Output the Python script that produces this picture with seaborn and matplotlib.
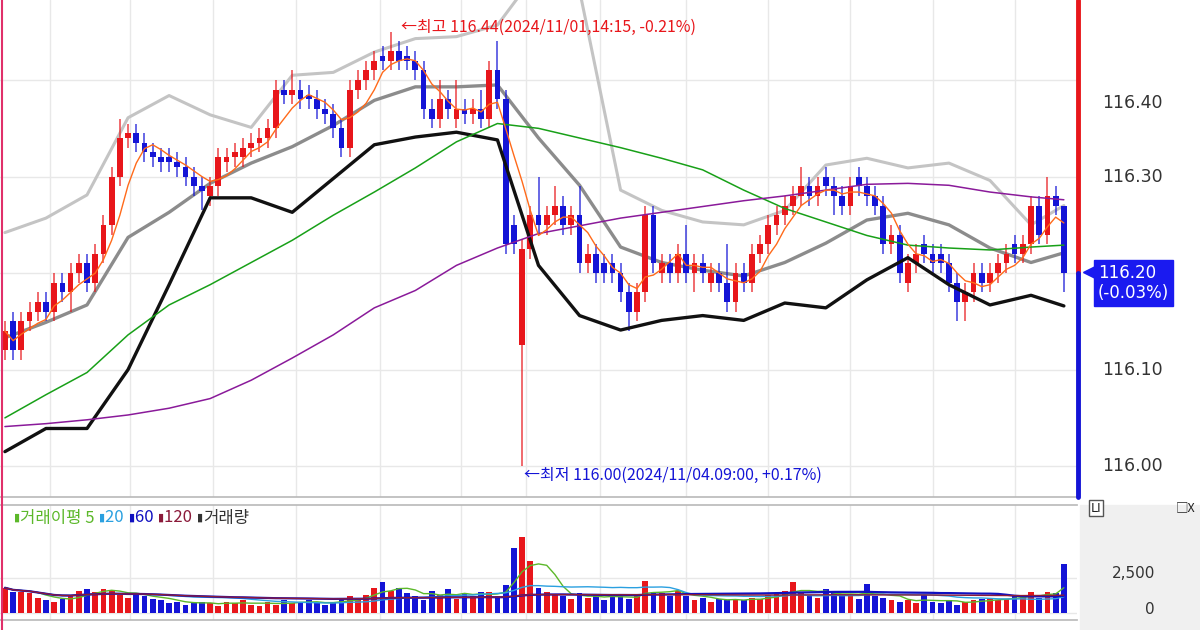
import numpy as np
import pandas as pd
import matplotlib
matplotlib.use("Agg")
import matplotlib.pyplot as plt
from matplotlib.lines import Line2D
import seaborn as sns

# ---------------- data ----------------
closes = [116.14,116.12,116.15,116.16,116.17,116.16,116.19,116.18,116.20,116.21,116.19,116.22,
          116.25,116.30,116.34,116.345,116.335,
          116.325,116.32,116.315,116.315,116.31,116.30,116.29,116.285,116.29,
          116.32,116.32,116.325,116.33,116.335,116.34,116.35,116.39,
          116.385,116.39,116.38,116.38,116.37,116.365,116.35,116.33,
          116.39,116.40,116.41,116.42,116.42,116.43,116.42,116.42,116.41,
          116.37,116.36,116.38,116.37,116.37,116.365,116.37,116.36,
          116.41,116.38,116.23,116.23,116.225,
          116.26,116.25,116.26,116.27,116.25,116.26,
          116.21,116.22,116.20,116.20,116.20,
          116.18,116.16,116.18,116.26,116.21,
          116.21,116.20,116.22,116.20,116.21,116.20,116.20,116.19,116.17,116.20,116.19,
          116.22,116.23,116.25,116.26,116.27,116.28,116.29,116.28,116.29,
          116.29,116.28,116.27,116.29,116.29,116.28,116.27,
          116.23,116.24,116.20,116.21,116.22,116.22,116.21,116.21,116.19,116.17,116.18,116.20,
          116.19,116.20,116.21,116.22,116.22,116.23,116.27,116.24,116.28,116.27,116.20]
opens = [116.12,116.15,116.12,116.15,116.16,116.17,116.16,116.19,116.18,116.20,116.21,116.19,
         116.22,116.25,116.30,116.34,116.345,
         116.335,116.325,116.32,116.32,116.315,116.31,116.30,116.29,116.28,
         116.29,116.315,116.32,116.32,116.33,116.335,116.34,116.35,
         116.39,116.385,116.39,116.385,116.38,116.37,116.365,116.35,
         116.33,116.39,116.40,116.41,116.425,116.42,116.43,116.425,116.42,
         116.41,116.37,116.36,116.38,116.36,116.37,116.365,116.37,
         116.36,116.41,116.38,116.25,116.125,
         116.225,116.26,116.25,116.26,116.27,116.25,
         116.26,116.21,116.22,116.21,116.21,
         116.20,116.18,116.16,116.18,116.26,
         116.20,116.21,116.20,116.22,116.20,116.21,116.19,116.20,116.19,116.17,116.20,
         116.19,116.22,116.23,116.25,116.26,116.27,116.28,116.29,116.28,
         116.30,116.29,116.28,116.27,116.30,116.29,116.28,
         116.27,116.23,116.24,116.19,116.21,116.23,116.22,116.22,116.21,116.19,116.17,116.18,
         116.20,116.19,116.20,116.21,116.23,116.22,116.23,116.27,116.24,116.28,116.27]
# wick lengths in hundredths
wick_up = [1,1,1,1,1,1,1,1,1,1,1,1,
           1,1,2,1,1,
           1,1,1,1,1,1,1,1,1,
           1,1,1,1,1,1,1,1,
           1,2,1,1,1,1,1,1,
           1,1,1,1,1,2,1,1,1,
           1,1,2,1,3,1,1,2,
           1,3,1,1,1,
           1,4,1,2,1,1,
           3,1,1,1,1,
           1,1,1,1,1,
           1,1,1,3,1,1,1,1,4,1,1,
           1,1,1,1,1,1,2,1,1,
           1,1,1,1,1,1,1,
           1,1,1,1,1,1,1,1,1,1,1,1,
           1,1,1,1,1,1,1,1,2,1,0]
wick_dn = [1,1,1,1,1,1,1,1,2,1,1,1,
           1,1,1,1,1,
           1,1,1,1,1,1,1,2,1,
           1,1,1,1,1,1,1,1,
           1,1,1,1,1,1,1,1,
           1,1,1,1,1,1,1,1,1,
           1,1,1,1,1,1,1,1,
           1,1,1,1,12.5,
           1,1,1,1,1,1,
           1,1,1,1,1,
           1,2,1,1,1,
           1,1,1,1,2,1,1,1,1,1,1,
           1,1,1,1,1,1,1,1,1,
           1,2,1,1,1,1,1,
           1,1,1,1,1,1,1,1,1,2,2,1,
           1,1,1,1,1,1,1,1,1,1,2]
volumes = [1800,1500,1500,1400,1100,900,800,1000,1200,1600,1700,1500,
           1700,1600,1300,1100,1400,
           1200,1000,900,700,800,600,700,800,700,
           500,800,700,900,600,500,800,600,
           900,700,800,900,700,600,700,1100,
           1200,1000,1300,1800,2200,1600,1800,1400,1200,
           900,1600,1300,1700,1000,1400,1200,1500,
           1500,1200,2000,4600,5400,
           3700,1800,1500,1300,1200,1000,
           1400,1100,1300,900,1200,
           1300,1000,1200,2300,1500,
           1400,1200,1600,1200,900,1100,800,1000,900,1000,900,
           1100,1000,1300,1400,1600,2200,1500,1300,1100,
           1700,1500,1200,1300,1000,2100,1200,
           1100,900,800,900,700,1300,800,700,900,600,800,900,
           1000,1100,900,1000,1200,1300,1500,1100,1500,1400,3500]

# indicator lines read at every 5th candle (+ last)
line_idx = list(range(0, 130, 5)) + [129]
bb_upper = [116.242,116.257,116.281,116.361,116.384,116.364,116.351,116.405,116.408,116.429,
            116.443,116.445,116.457,116.514,116.493,116.286,116.265,116.253,116.250,116.265,
            116.312,116.319,116.309,116.314,116.296,116.250,116.270]
bb_mid = [116.133,116.149,116.167,116.237,116.263,116.293,116.314,116.331,116.353,116.379,
          116.393,116.393,116.395,116.340,116.291,116.227,116.211,116.203,116.197,116.211,
          116.231,116.255,116.262,116.250,116.226,116.211,116.221]
bb_lower = [116.015,116.039,116.039,116.100,116.188,116.278,116.278,116.263,116.298,116.333,
            116.341,116.346,116.338,116.208,116.156,116.141,116.151,116.156,116.151,116.169,
            116.164,116.193,116.216,116.188,116.167,116.177,116.166]
ma_green = [116.050,116.074,116.097,116.136,116.167,116.188,116.211,116.234,116.260,116.284,
            116.309,116.336,116.355,116.350,116.340,116.330,116.319,116.307,116.286,116.267,
            116.253,116.239,116.229,116.226,116.224,116.227,116.229]
ma_purple = [116.041,116.044,116.048,116.053,116.060,116.070,116.089,116.112,116.136,116.164,
             116.182,116.208,116.226,116.241,116.249,116.257,116.263,116.269,116.275,116.280,
             116.286,116.292,116.293,116.291,116.284,116.279,116.276]
grid_x = [5.5, 15.2, 25.4, 35.4, 45.7, 55.5, 63.5, 72.5, 83, 93, 103, 113, 123]
price_labels = ["116.40", "116.30", "116.10", "116.00"]
price_label_pos = [116.376, 116.30, 116.10, 116.00]

# ---------------- style ----------------
sns.set_theme(style="white")
plt.rcParams['font.family'] = ['Noto Sans CJK KR', 'DejaVu Sans']

RED = "#e8161b"
BLUE = "#1414d6"
W, H = 1200, 630
fig = plt.figure(figsize=(12, 6.3), dpi=100)

def fx(px): return px / W
def fy(py): return 1 - py / H

ax = fig.add_axes([fx(0), fy(497), fx(1077), 497 / H])
axv = fig.add_axes([fx(0), fy(620), fx(1077), 115 / H])

n = len(closes)
x = np.arange(n)
o = np.array(opens); c = np.array(closes)
hi = np.maximum(o, c) + np.array(wick_up) / 100
lo = np.minimum(o, c) - np.array(wick_dn) / 100
up = c >= o
cols = np.where(up, RED, BLUE)

for g in grid_x:
    ax.axvline(g, color="#e8e8e8", lw=1, zorder=0)
    axv.axvline(g, color="#e8e8e8", lw=1, zorder=0)
for v in [116.0, 116.1, 116.2, 116.3, 116.4]:
    ax.axhline(v, color="#e8e8e8", lw=1, zorder=0)
for v in [0, 2500]:
    axv.axhline(v, color="#e8e8e8", lw=1, zorder=0)

# candles
ax.vlines(x, lo, hi, colors=cols, lw=1.2, alpha=0.75, zorder=3)
body_h = np.where(np.abs(c - o) < 0.002, 0.002, np.abs(c - o))
ax.bar(x, body_h, bottom=np.minimum(o, c), width=0.7, color=cols, linewidth=0, zorder=3)

# lines
df_lines = pd.DataFrame({"x": line_idx, "upper": bb_upper, "mid": bb_mid, "lower": bb_lower,
                         "green": ma_green, "purple": ma_purple})
sns.lineplot(data=df_lines, x="x", y="upper", ax=ax, color="#c4c4c4", lw=2.2, zorder=2)
sns.lineplot(data=df_lines, x="x", y="mid", ax=ax, color="#8c8c8c", lw=2.4, zorder=2)
sns.lineplot(data=df_lines, x="x", y="lower", ax=ax, color="#111111", lw=2.4, zorder=4)
sns.lineplot(data=df_lines, x="x", y="green", ax=ax, color="#18a018", lw=1.1, zorder=4)
sns.lineplot(data=df_lines, x="x", y="purple", ax=ax, color="#8a1a9a", lw=1.1, zorder=4)
ma5 = pd.Series(closes).rolling(5, min_periods=1).mean()
sns.lineplot(x=x, y=ma5.values, ax=ax, color="#ff6a1a", lw=1.0, zorder=5)

ax.set_xlim(-0.6, 130.6)
ax.set_ylim(115.968, 116.483)
ax.set_xticks([]); ax.set_yticks([])
ax.set_xlabel(""); ax.set_ylabel("")
for s in ["top", "right", "left"]:
    ax.spines[s].set_visible(False)
ax.spines["bottom"].set_color("#bbbbbb")

ax.text(48.2, 116.455, "←최고 116.44(2024/11/01,14:15, -0.21%)", color=RED, fontsize=11.5,
        va="center", ha="left")
ax.text(63.2, 115.99, "←최저 116.00(2024/11/04.09:00, +0.17%)", color=BLUE, fontsize=11.5,
        va="center", ha="left")

# volume
vol = pd.Series(volumes)
axv.bar(x, volumes, width=0.7, color=cols, linewidth=0, zorder=3)
vma_specs = [(5, "#5cb82a"), (20, "#2aa0e0"), (60, "#1010c0"), (120, "#8b1a3a")]
for win, colr in vma_specs:
    sns.lineplot(x=x, y=vol.rolling(win, min_periods=1).mean().values, ax=axv,
                 color=colr, lw=1.6 if win == 60 else 1.0, zorder=4)
axv.set_xlim(-0.6, 130.6)
axv.set_ylim(-500, 7700)
axv.set_xticks([]); axv.set_yticks([])
axv.set_xlabel(""); axv.set_ylabel("")
for s in ["right", "left"]:
    axv.spines[s].set_visible(False)
axv.spines["top"].set_color("#bbbbbb")
axv.spines["bottom"].set_color("#bbbbbb")

legend_items = [("▮", "#5cb82a", "거래이평 5 "), ("▮", "#2aa0e0", "20 "), ("▮", "#1010c0", "60 "),
                ("▮", "#8b1a3a", "120 "), ("▮", "#333333", "거래량")]
lx = 14
for mark, colr, label in legend_items:
    t = fig.text(fx(lx), fy(518), mark, color=colr, fontsize=8, va="center")
    lx += 6
    tcol = colr if colr != "#333333" else "#333333"
    t2 = fig.text(fx(lx), fy(518), label, color=tcol, fontsize=12, va="center")
    fig.canvas.draw()
    bb = t2.get_window_extent()
    lx += bb.width + 1

# right side
fig.add_artist(plt.Rectangle((fx(1080), fy(630)), fx(120), 125 / H, color="#f0f0f0", zorder=0))
fig.add_artist(Line2D([fx(1078), fx(1078)], [fy(0), fy(273)], color=RED, lw=3.5))
fig.add_artist(Line2D([fx(1078), fx(1078)], [fy(273), fy(497)], color=BLUE, lw=3.5))
for lab, pos in zip(price_labels, price_label_pos):
    yy = (pos - 115.968) / (116.483 - 115.968)
    fig.text(fx(1102), fy(497) + yy * 497 / H, lab, fontsize=12.5, color="#333333",
             va="center", ha="left", family="DejaVu Sans")
fig.text(fx(1098), fy(283), "116.20\n(-0.03%)", fontsize=12, color="white", va="center",
         ha="left", family="DejaVu Sans", linespacing=1.1,
         bbox=dict(boxstyle="square,pad=0.25", fc="#1a1af0", ec="#1a1af0"))
fig.add_artist(Line2D([fx(1089)], [fy(272)], marker="<", color="#1a1af0", markersize=9, lw=0))
fig.text(fx(1155), fy(574), "2,500", fontsize=11, color="#333333", va="center", ha="right",
         family="DejaVu Sans")
fig.text(fx(1155), fy(609), "0", fontsize=11, color="#333333", va="center", ha="right",
         family="DejaVu Sans")
fig.text(fx(1096), fy(508), "LI", fontsize=9, color="#222222", va="center", ha="center",
         family="DejaVu Sans", bbox=dict(boxstyle="square,pad=0.1", fc="white", ec="#555555"))
fig.text(fx(1186), fy(508), "□X", fontsize=9, color="#222222", va="center", ha="center",
         family=["Noto Sans CJK KR", "DejaVu Sans"])
fig.add_artist(Line2D([fx(2), fx(2)], [0, 1], color="#e0306a", lw=1.5))

fig.savefig("out.png", dpi=100, facecolor="white")
